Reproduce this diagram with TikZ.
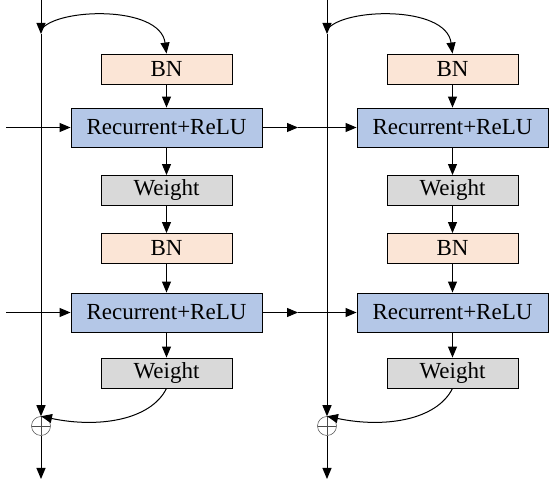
\documentclass[tikz,border=0pt]{standalone}
\usepackage{fontspec}
\setmainfont{Liberation Serif}
\usetikzlibrary{arrows.meta,calc}
\definecolor{bnc}{HTML}{FBE5D6}
\definecolor{recc}{HTML}{B4C7E7}
\definecolor{wc}{HTML}{D9D9D9}
\begin{document}
\begin{tikzpicture}[x=1pt,y=-1pt,
  box/.style={draw, line width=0.9pt, inner sep=0pt, font=\rmfamily\fontsize{23}{27}\selectfont},
  small/.style={box, minimum width=131pt, minimum height=30pt},
  big/.style={box, minimum width=191pt, minimum height=39pt},
  bnbox/.style={small, fill=bnc},
  recbox/.style={big, fill=recc},
  wbox/.style={small, fill=wc},
  arr/.style={line width=1pt, -{Triangle[length=11pt,width=9pt]}},
  sumnode/.style={circle, draw=black!70, line width=0.5pt, minimum size=19pt, inner sep=0pt,
    path picture={\draw[black!70,line width=0.5pt] (path picture bounding box.north) -- (path picture bounding box.south) (path picture bounding box.west) -- (path picture bounding box.east);}}
]
\useasboundingbox (0,0) rectangle (555,494);
\foreach \c/\dx in {L/0,R/286}{
  \node[bnbox]  (bn1\c)  at (166.5+\dx,69)    {BN};
  \node[recbox] (rec1\c) at (166.5+\dx,127.5) {Recurrent+ReLU};
  \node[wbox]   (w1\c)   at (166.5+\dx,190.5) {Weight};
  \node[bnbox]  (bn2\c)  at (166.5+\dx,248.5) {BN};
  \node[recbox] (rec2\c) at (166.5+\dx,312.5) {Recurrent+ReLU};
  \node[wbox]   (w2\c)   at (166.5+\dx,373)   {Weight};
  \node[sumnode] (sum\c) at (41+\dx,426) {};
  \coordinate (top\c) at (41+\dx,0);
  \coordinate (split\c) at (41+\dx,34);
  \coordinate (out\c) at (41+\dx,479);
  \draw[arr] (top\c) -- (split\c);
  \draw[arr] (split\c) -- (sum\c.north);
  \draw[arr] ($(split\c)+(0,-4)$) .. controls +(14,-22) and +(-6.5,-49) .. (bn1\c.north);
  \draw[arr] (bn1\c) -- (rec1\c);
  \draw[arr] (rec1\c) -- (w1\c);
  \draw[arr] (w1\c) -- (bn2\c);
  \draw[arr] (bn2\c) -- (rec2\c);
  \draw[arr] (rec2\c) -- (w2\c);
  \draw[arr] (w2\c.south) .. controls +(-16,32) and +(57,12) .. (sum\c.north);
  \draw[arr] (sum\c.south) -- (out\c);
}
\coordinate (in1) at (6,127.5);
\coordinate (in2) at (6,312.5);
\draw[arr] (in1) -- (rec1L.west);
\draw[arr] (in2) -- (rec2L.west);
\coordinate (mid1) at (298,127.5);
\coordinate (mid2) at (298,312.5);
\draw[arr] (rec1L.east) -- (mid1);
\draw[arr] (mid1) -- (rec1R.west);
\draw[arr] (rec2L.east) -- (mid2);
\draw[arr] (mid2) -- (rec2R.west);
\end{tikzpicture}
\end{document}
